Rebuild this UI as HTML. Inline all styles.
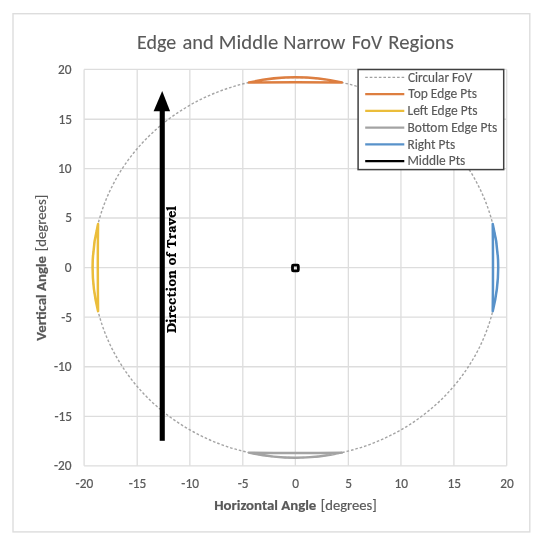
<!DOCTYPE html>
<html><head><meta charset="utf-8"><title>Edge and Middle Narrow FoV Regions</title>
<style>html,body{margin:0;padding:0;background:#fff;overflow:hidden;}svg{display:block;filter:blur(0.35px);}text{white-space:pre;}</style>
</head><body>
<svg width="540" height="550" viewBox="0 0 540 550">
<rect x="0" y="0" width="540" height="550" fill="#fff"/>
<rect x="13" y="13.7" width="516.8" height="518.2" fill="none" stroke="#dddddd" stroke-width="1.4"/>
<g stroke="#dddddd" stroke-width="1.3"><line x1="84.10" y1="69.44" x2="84.10" y2="465.78"/><line x1="84.10" y1="465.78" x2="506.70" y2="465.78"/><line x1="137.20" y1="69.44" x2="137.20" y2="465.78"/><line x1="84.10" y1="416.30" x2="506.70" y2="416.30"/><line x1="189.85" y1="69.44" x2="189.85" y2="465.78"/><line x1="84.10" y1="366.75" x2="506.70" y2="366.75"/><line x1="242.80" y1="69.44" x2="242.80" y2="465.78"/><line x1="84.10" y1="317.15" x2="506.70" y2="317.15"/><line x1="295.35" y1="69.44" x2="295.35" y2="465.78"/><line x1="84.10" y1="267.56" x2="506.70" y2="267.56"/><line x1="348.35" y1="69.44" x2="348.35" y2="465.78"/><line x1="84.10" y1="218.00" x2="506.70" y2="218.00"/><line x1="400.95" y1="69.44" x2="400.95" y2="465.78"/><line x1="84.10" y1="168.56" x2="506.70" y2="168.56"/><line x1="453.90" y1="69.44" x2="453.90" y2="465.78"/><line x1="84.10" y1="119.25" x2="506.70" y2="119.25"/><line x1="506.70" y1="69.44" x2="506.70" y2="465.78"/><line x1="84.10" y1="69.44" x2="506.70" y2="69.44"/></g>
<ellipse cx="295.4" cy="267.56" rx="202.74" ry="190.13" fill="none" stroke="#a4a4a4" stroke-width="1.4" stroke-dasharray="2.6 1.94"/>
<path d="M248.91,82.49 A202.74,190.13 0 0 1 341.89,82.49 Q295.40,81.99 248.91,82.49 Z" fill="none" stroke="#DD7E40" stroke-width="2.5" stroke-linejoin="round"/>
<path d="M248.91,452.63 A202.74,190.13 0 0 0 341.89,452.63 Q295.40,453.13 248.91,452.63 Z" fill="none" stroke="#A3A3A3" stroke-width="2.5" stroke-linejoin="round"/>
<path d="M98.06,223.96 A202.74,190.13 0 0 0 98.06,311.16 Q97.56,267.56 98.06,223.96 Z" fill="none" stroke="#EBBD3A" stroke-width="2.5" stroke-linejoin="round"/>
<path d="M492.74,223.96 A202.74,190.13 0 0 1 492.74,311.16 Q493.24,267.56 492.74,223.96 Z" fill="none" stroke="#5892CA" stroke-width="2.5" stroke-linejoin="round"/>
<rect x="292.50" y="265.10" width="5.8" height="5.8" rx="0.8" fill="none" stroke="#000" stroke-width="2.8"/>
<rect x="159.7" y="110" width="5.1" height="330.8" fill="#000"/>
<path d="M162.2,90.9 L170.1,111.2 L153.6,111.2 Z" fill="#000"/>
<text transform="translate(176,333.1) rotate(-90)" x="0.04" font-family="'TeX Gyre Bonum','Liberation Serif',serif" font-weight="bold" font-size="13.0" fill="#000" textLength="127.09" lengthAdjust="spacingAndGlyphs">Direction of Travel</text>
<g font-family="Carlito,'Liberation Sans',sans-serif" font-size="13.33" fill="#595959" stroke="#595959" stroke-width="0.2"><text x="71.54" y="470.13" text-anchor="end">-20</text><text x="84.40" y="487.8" text-anchor="middle">-20</text><text x="71.99" y="420.65" text-anchor="end">-15</text><text x="137.50" y="487.8" text-anchor="middle">-15</text><text x="71.54" y="371.10" text-anchor="end">-10</text><text x="190.15" y="487.8" text-anchor="middle">-10</text><text x="71.99" y="321.50" text-anchor="end">-5</text><text x="243.10" y="487.8" text-anchor="middle">-5</text><text x="71.54" y="271.91" text-anchor="end">0</text><text x="295.65" y="487.8" text-anchor="middle">0</text><text x="71.99" y="222.35" text-anchor="end">5</text><text x="348.65" y="487.8" text-anchor="middle">5</text><text x="71.54" y="172.91" text-anchor="end">10</text><text x="401.25" y="487.8" text-anchor="middle">10</text><text x="71.99" y="123.60" text-anchor="end">15</text><text x="454.20" y="487.8" text-anchor="middle">15</text><text x="71.54" y="73.79" text-anchor="end">20</text><text x="507.00" y="487.8" text-anchor="middle">20</text></g>
<g font-family="Carlito,'Liberation Sans',sans-serif" font-size="19.8" fill="#595959" stroke="#595959" stroke-width="0.1"><text x="137.10" y="49.1" textLength="39.22" lengthAdjust="spacingAndGlyphs">Edge</text><text x="182.49" y="49.1" textLength="31.40" lengthAdjust="spacingAndGlyphs">and</text><text x="218.89" y="49.1" textLength="59.33" lengthAdjust="spacingAndGlyphs">Middle</text><text x="283.27" y="49.1" textLength="62.03" lengthAdjust="spacingAndGlyphs">Narrow</text><text x="351.77" y="49.1" textLength="30.59" lengthAdjust="spacingAndGlyphs">FoV</text><text x="388.28" y="49.1" textLength="65.59" lengthAdjust="spacingAndGlyphs">Regions</text></g>
<g font-family="Carlito,'Liberation Sans',sans-serif" font-size="14.67" fill="#595959" stroke="#595959" stroke-width="0.2"><text x="214.19" y="509.7" font-weight="bold" textLength="102.15" lengthAdjust="spacingAndGlyphs">Horizontal Angle</text><text x="320.85" y="509.7" textLength="55.79" lengthAdjust="spacingAndGlyphs">[degrees]</text></g>
<g transform="translate(45.9,341.1) rotate(-90)" font-family="Carlito,'Liberation Sans',sans-serif" font-size="14.67" fill="#595959" stroke="#595959" stroke-width="0.2"><text x="0.29" y="0" font-weight="bold" textLength="84.85" lengthAdjust="spacingAndGlyphs">Vertical Angle</text><text x="89.85" y="0" textLength="56.49" lengthAdjust="spacingAndGlyphs">[degrees]</text></g>
<g font-family="Carlito,'Liberation Sans',sans-serif" font-size="13.33" fill="#595959"><rect x="358.1" y="69.5" width="145.6" height="100.1" fill="#fff" stroke="#404040" stroke-width="1.5"/><line x1="365.2" y1="77.40" x2="404.3" y2="77.40" stroke="#a0a0a0" stroke-width="1.4" stroke-dasharray="2.6 1.95"/><text x="408.06" y="81.50" textLength="64.28" lengthAdjust="spacingAndGlyphs" stroke="#595959" stroke-width="0.15">Circular FoV</text><line x1="365.2" y1="94.15" x2="404.3" y2="94.15" stroke="#DD7E40" stroke-width="2.3"/><text x="408.34" y="98.25" textLength="68.71" lengthAdjust="spacingAndGlyphs" stroke="#595959" stroke-width="0.15">Top Edge Pts</text><line x1="365.2" y1="110.90" x2="404.3" y2="110.90" stroke="#EBBD3A" stroke-width="2.3"/><text x="407.60" y="115.00" textLength="69.95" lengthAdjust="spacingAndGlyphs" stroke="#595959" stroke-width="0.15">Left Edge Pts</text><line x1="365.2" y1="127.65" x2="404.3" y2="127.65" stroke="#A3A3A3" stroke-width="2.3"/><text x="407.56" y="131.75" textLength="89.79" lengthAdjust="spacingAndGlyphs" stroke="#595959" stroke-width="0.15">Bottom Edge Pts</text><line x1="365.2" y1="144.40" x2="404.3" y2="144.40" stroke="#5892CA" stroke-width="2.3"/><text x="407.54" y="148.50" textLength="47.61" lengthAdjust="spacingAndGlyphs" stroke="#595959" stroke-width="0.15">Right Pts</text><line x1="365.2" y1="161.15" x2="404.3" y2="161.15" stroke="#000" stroke-width="2.3"/><text x="407.41" y="165.25" textLength="57.94" lengthAdjust="spacingAndGlyphs" stroke="#595959" stroke-width="0.15">Middle Pts</text></g>
</svg>
</body></html>
